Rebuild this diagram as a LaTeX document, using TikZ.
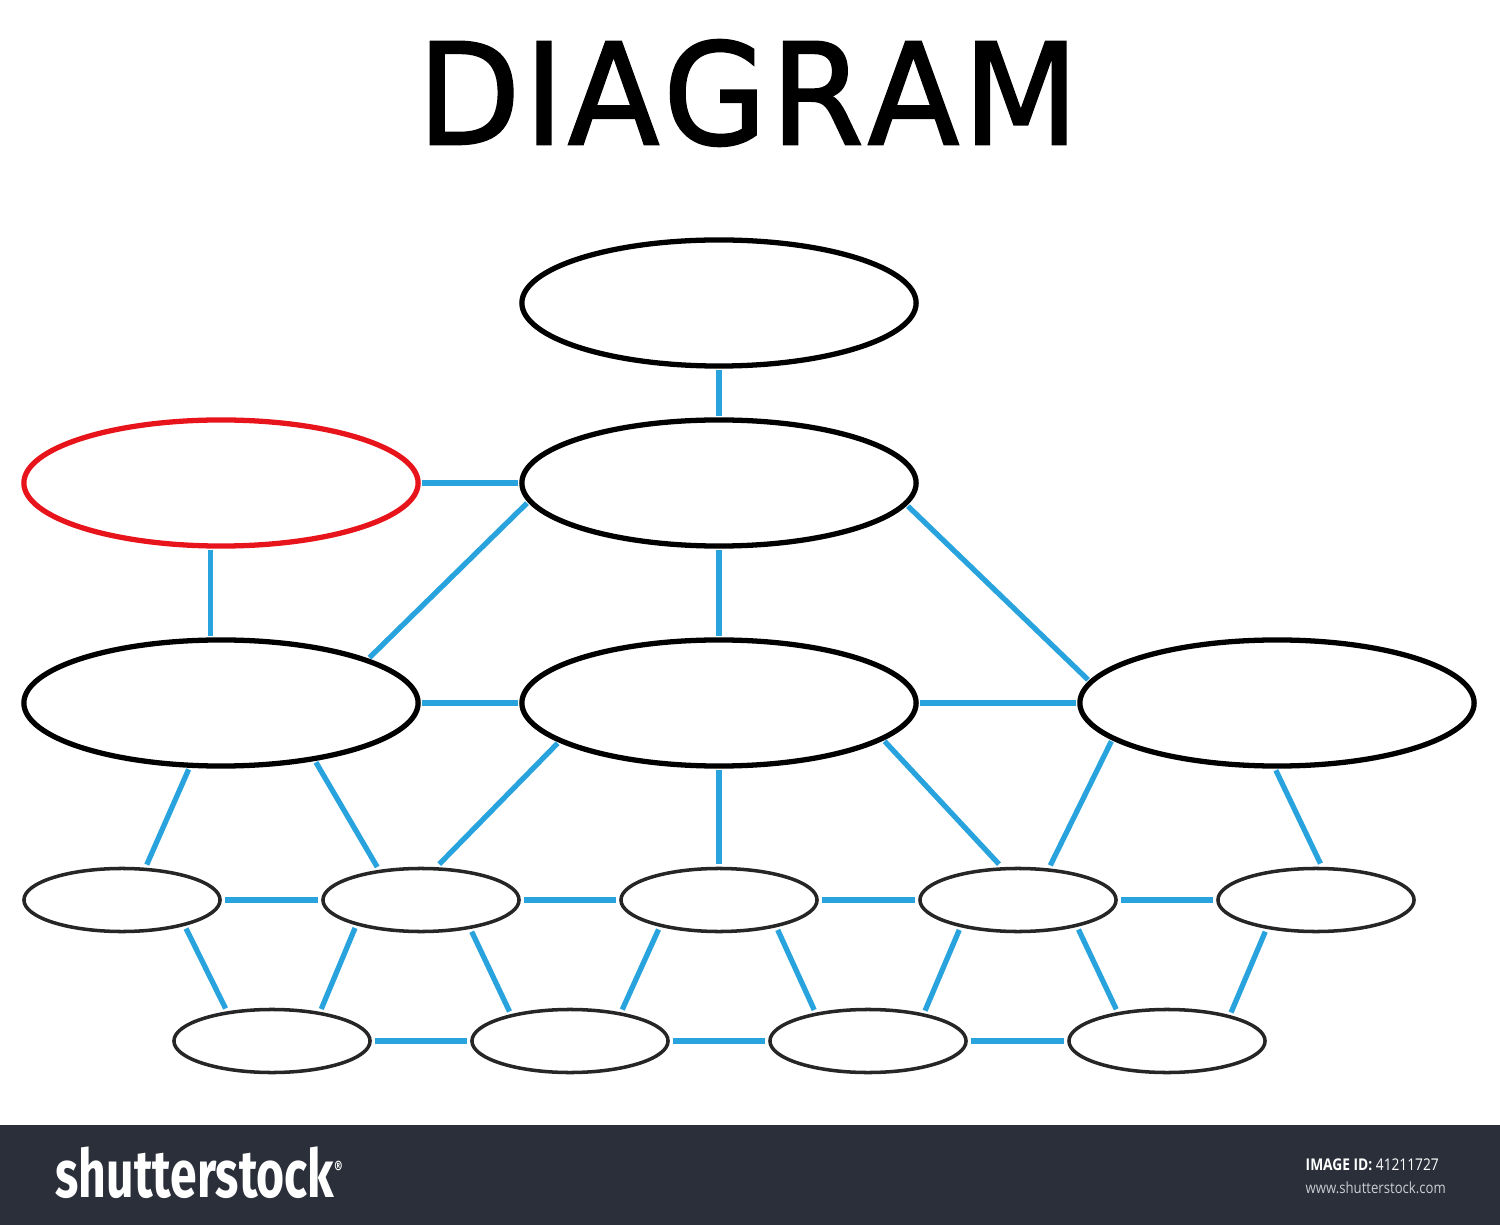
\documentclass[tikz,border=0pt]{standalone}
\usepackage{fontspec}
\usepackage{tikz}
\usetikzlibrary{positioning}
\usetikzlibrary{shapes.geometric}
\newfontfamily\titlefont[FakeBold=1.6,Kerning=Off,LetterSpace=3]{DejaVu Sans}
\newfontfamily\logofont{Fira Sans}
\newfontfamily\idfont{Open Sans}
\definecolor{linkblue}{HTML}{29A3DD}
\definecolor{markred}{HTML}{E8141B}
\definecolor{barslate}{HTML}{2A2F39}
\definecolor{urlgrey}{HTML}{C9CCD1}
\tikzset{
	every node/.style={align=center},
	bigbox/.style={ellipse,draw=black,line width=1.5pt,minimum width=3.94cm,minimum height=1.26cm,inner sep=0pt,outer sep=1.2pt},
	redbox/.style={bigbox,draw=markred},
	smallbox/.style={ellipse,draw=black!85,line width=1pt,minimum width=1.96cm,minimum height=0.63cm,inner sep=0pt,outer sep=1.4pt},
	link/.style={draw=linkblue,line width=1.5pt},
}

\begin{document}
\begin{tikzpicture}[x=0.01cm,y=-0.01cm]

	\useasboundingbox (0,0) rectangle (1500,1225);

	%title.....................
	\node (title) at (748,93) {\titlefont\fontsize{40}{40}\selectfont\scalebox{0.95}[1]{DIAGRAM}};

	%big ellipses....................
	\node [bigbox] (top) at (719,303) {};
	\node [bigbox] (hub) at (719,483) {};
	\node [redbox] (side) at (221,483) {};
	\node [bigbox] (left) at (221,703) {};
	\node [bigbox] (centre) at (719,703) {};
	\node [bigbox] (right) at (1277,703) {};

	%small ellipses, upper row....................
	\node [smallbox] (s1) at (122,900) {};
	\node [smallbox] (s2) at (421,900) {};
	\node [smallbox] (s3) at (719,900) {};
	\node [smallbox] (s4) at (1018,900) {};
	\node [smallbox] (s5) at (1316,900) {};

	%small ellipses, lower row....................
	\node [smallbox] (b1) at (272,1041) {};
	\node [smallbox] (b2) at (570,1041) {};
	\node [smallbox] (b3) at (868,1041) {};
	\node [smallbox] (b4) at (1167,1041) {};

	%links between the big ones....................
	\draw [link] (top) -- (hub);
	\draw [link] (side) -- (hub);
	\draw [link] (side.261) -- (left.99);
	\draw [link] (hub.186.5) -- (left.17);
	\draw [link] (hub) -- (centre);
	\draw [link] (hub.353.5) -- (right.173);
	\draw [link] (left) -- (centre);
	\draw [link] (centre) -- (right);

	%links down to the upper row....................
	\draw [link] (left.244) -- (s1.55);
	\draw [link] (left.328) -- (s2.143);
	\draw [link] (centre.194) -- (s2.63);
	\draw [link] (centre) -- (s3);
	\draw [link] (centre.347) -- (s4.118);
	\draw [link] (right.193.5) -- (s4.47);
	\draw [link] (right.269) -- (s5.83);
	\draw [link] (s1) -- (s2);
	\draw [link] (s2) -- (s3);
	\draw [link] (s3) -- (s4);
	\draw [link] (s4) -- (s5);

	%links down to the lower row....................
	\draw [link] (s1.336) -- (b1.145);
	\draw [link] (s2.203) -- (b1.33);
	\draw [link] (s2.328) -- (b2.154);
	\draw [link] (s3.206) -- (b2.31);
	\draw [link] (s3.333) -- (b3.150);
	\draw [link] (s4.207) -- (b3.28);
	\draw [link] (s4.334) -- (b4.148);
	\draw [link] (s5.212) -- (b4.24);
	\draw [link] (b1) -- (b2);
	\draw [link] (b2) -- (b3);
	\draw [link] (b3) -- (b4);

	%bottom bar....................
	\fill [barslate] (0,1125) rectangle (1500,1225);
	\node [anchor=base west,text=white,inner sep=0pt] (logo) at (55,1197) {\logofont\bfseries\fontsize{19}{19}\selectfont\scalebox{0.72}[1]{shutterstock\textsuperscript{\tiny ®}}};
	\node [anchor=base west,text=white,inner sep=0pt] (imageid) at (1305,1170) {\idfont\fontsize{4.6}{5}\selectfont\scalebox{0.85}[1]{\textbf{IMAGE ID:} 41211727}};
	\node [anchor=base west,text=urlgrey,inner sep=0pt] (site) at (1305,1193) {\idfont\fontsize{4.4}{5}\selectfont\scalebox{0.85}[1]{www.shutterstock.com}};

\end{tikzpicture}
\end{document}
